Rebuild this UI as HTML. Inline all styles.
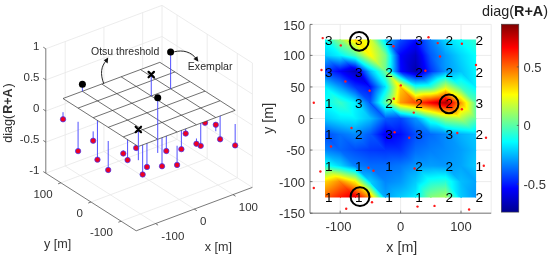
<!DOCTYPE html>
<html><head><meta charset="utf-8"><title>figure</title><style>html,body{margin:0;padding:0;background:#fff}svg{display:block}</style></head><body>
<svg width="550" height="260" viewBox="0 0 550 260" font-family="Liberation Sans, Arial, sans-serif">
<style>
text{font-family:"Liberation Sans",Arial,Helvetica,sans-serif}
.g{stroke:#e7e7e7;stroke-width:0.8;fill:none}
.ax{stroke:#4d4d4d;stroke-width:0.75;fill:none}
.m{stroke:#333;stroke-width:0.7;fill:none}
.s{stroke:#4848ff;stroke-width:0.95;fill:none}
.r{fill:#ee0022;stroke:#3a3aff;stroke-width:0.7}
.k{fill:#000}
.x{stroke:#000;stroke-width:2.2;fill:none;stroke-linecap:round}
.t{fill:#333;font-size:11.5px}
.tl{fill:#333;font-size:12.6px}
.t2{fill:#333;font-size:13px}
.n{fill:#000;font-size:13.6px}
.d{fill:#ff1a1a}
.c{fill:none;stroke:#000;stroke-width:2}
</style>
<rect width="550" height="260" fill="#fff"/>
<line x1="65.18" y1="165.97" x2="65.18" y2="41.57" class="g"/>
<line x1="65.18" y1="165.97" x2="155.56" y2="223.57" class="g"/>
<line x1="103.91" y1="151.5" x2="103.91" y2="27.1" class="g"/>
<line x1="103.91" y1="151.5" x2="194.29" y2="209.1" class="g"/>
<line x1="142.63" y1="137.03" x2="142.63" y2="12.63" class="g"/>
<line x1="142.63" y1="137.03" x2="233.02" y2="194.63" class="g"/>
<line x1="237.32" y1="177.8" x2="237.32" y2="53.39" class="g"/>
<line x1="121.13" y1="221.2" x2="237.32" y2="177.8" class="g"/>
<line x1="207.19" y1="158.59" x2="207.19" y2="34.19" class="g"/>
<line x1="91" y1="202" x2="207.19" y2="158.59" class="g"/>
<line x1="177.06" y1="139.39" x2="177.06" y2="14.99" class="g"/>
<line x1="60.87" y1="182.81" x2="177.06" y2="139.39" class="g"/>
<line x1="45.81" y1="142.11" x2="162" y2="98.69" class="g"/>
<line x1="162" y1="98.69" x2="252.39" y2="156.29" class="g"/>
<line x1="45.81" y1="111.01" x2="162" y2="67.59" class="g"/>
<line x1="162" y1="67.59" x2="252.39" y2="125.19" class="g"/>
<line x1="45.81" y1="79.91" x2="162" y2="36.49" class="g"/>
<line x1="162" y1="36.49" x2="252.39" y2="94.09" class="g"/>
<line x1="45.81" y1="48.81" x2="162" y2="5.39" class="g"/>
<line x1="162" y1="5.39" x2="252.39" y2="62.99" class="g"/>
<line x1="162" y1="129.8" x2="162" y2="5.39" class="g"/>
<line x1="252.39" y1="187.39" x2="252.39" y2="62.99" class="g"/>
<line x1="45.81" y1="173.21" x2="162" y2="129.8" class="g"/>
<line x1="162" y1="129.8" x2="252.39" y2="187.39" class="g"/>
<line x1="45.81" y1="173.21" x2="45.81" y2="48.81" class="ax"/>
<line x1="45.81" y1="173.21" x2="136.2" y2="230.81" class="ax"/>
<line x1="136.2" y1="230.81" x2="252.39" y2="187.39" class="ax"/>
<line x1="45.81" y1="48.81" x2="43.28" y2="47.19" class="ax"/>
<text x="39.5" y="49.71" text-anchor="end" class="t">1</text>
<line x1="45.81" y1="79.91" x2="43.28" y2="78.29" class="ax"/>
<text x="39.5" y="80.8" text-anchor="end" class="t">0.5</text>
<line x1="45.81" y1="111.01" x2="43.28" y2="109.39" class="ax"/>
<text x="39.5" y="111.91" text-anchor="end" class="t">0</text>
<line x1="45.81" y1="142.11" x2="43.28" y2="140.49" class="ax"/>
<text x="39.5" y="143.01" text-anchor="end" class="t">-0.5</text>
<line x1="45.81" y1="173.21" x2="43.28" y2="171.59" class="ax"/>
<text x="39.5" y="174.11" text-anchor="end" class="t">-1</text>
<line x1="60.87" y1="182.81" x2="58.06" y2="183.85" class="ax"/>
<text x="52.67" y="197.5" text-anchor="end" class="t">100</text>
<line x1="91" y1="202" x2="88.19" y2="203.05" class="ax"/>
<text x="82.8" y="216.7" text-anchor="end" class="t">0</text>
<line x1="121.13" y1="221.2" x2="118.32" y2="222.25" class="ax"/>
<text x="112.93" y="235.9" text-anchor="end" class="t">-100</text>
<line x1="155.56" y1="223.57" x2="158.09" y2="225.18" class="ax"/>
<text x="161.37" y="239.67" class="t">-100</text>
<line x1="194.29" y1="209.1" x2="196.82" y2="210.71" class="ax"/>
<text x="200.09" y="225.2" class="t">0</text>
<line x1="233.02" y1="194.63" x2="235.55" y2="196.24" class="ax"/>
<text x="238.82" y="210.73" class="t">100</text>
<text x="57.6" y="248" text-anchor="middle" class="tl">y [m]</text>
<text x="218.4" y="251.4" text-anchor="middle" class="tl">x [m]</text>
<text transform="translate(12.3,113) rotate(-90)" text-anchor="middle" class="tl">diag(<tspan font-weight="bold" dx="0.9">R+A</tspan><tspan dx="0.9">)</tspan></text>
<line x1="136.19" y1="100.08" x2="136.19" y2="147.98" class="s"/>
<circle cx="136.19" cy="147.98" r="2.7" class="r"/>
<line x1="205.04" y1="104.81" x2="205.04" y2="122.73" class="s"/>
<circle cx="205.04" cy="122.73" r="2.7" class="r"/>
<line x1="185.68" y1="112.05" x2="185.68" y2="133.57" class="s"/>
<circle cx="185.68" cy="133.57" r="2.7" class="r"/>
<line x1="220.11" y1="114.41" x2="220.11" y2="139.29" class="s"/>
<circle cx="220.11" cy="139.29" r="2.7" class="r"/>
<line x1="97.45" y1="114.55" x2="97.45" y2="159.65" class="s"/>
<circle cx="97.45" cy="159.65" r="2.7" class="r"/>
<line x1="166.31" y1="119.28" x2="166.31" y2="151" class="s"/>
<circle cx="166.31" cy="151" r="2.7" class="r"/>
<line x1="200.74" y1="121.65" x2="200.74" y2="145.84" class="s"/>
<circle cx="200.74" cy="145.84" r="2.7" class="r"/>
<line x1="146.95" y1="126.52" x2="146.95" y2="166.95" class="s"/>
<circle cx="146.95" cy="166.95" r="2.7" class="r"/>
<line x1="181.38" y1="128.88" x2="181.38" y2="149.16" class="s"/>
<circle cx="181.38" cy="149.16" r="2.7" class="r"/>
<line x1="127.58" y1="133.75" x2="127.58" y2="160.06" class="s"/>
<circle cx="127.58" cy="160.06" r="2.7" class="r"/>
<line x1="162.01" y1="136.12" x2="162.01" y2="166.22" class="s"/>
<circle cx="162.01" cy="166.22" r="2.7" class="r"/>
<line x1="142.65" y1="143.35" x2="142.65" y2="174.45" class="s"/>
<circle cx="142.65" cy="174.45" r="2.7" class="r"/>
<polygon points="63.02,98.5 159.85,62.33 235.17,110.33 138.35,146.5" fill="#fff" stroke="none"/>
<line x1="138.35" y1="146.5" x2="63.02" y2="98.5" class="m"/>
<line x1="138.35" y1="146.5" x2="235.17" y2="110.33" class="m"/>
<line x1="157.72" y1="139.27" x2="82.39" y2="91.27" class="m"/>
<line x1="123.28" y1="136.9" x2="220.11" y2="100.73" class="m"/>
<line x1="177.08" y1="132.03" x2="101.75" y2="84.03" class="m"/>
<line x1="108.22" y1="127.3" x2="205.04" y2="91.13" class="m"/>
<line x1="196.44" y1="124.8" x2="121.12" y2="76.8" class="m"/>
<line x1="93.16" y1="117.7" x2="189.98" y2="81.53" class="m"/>
<line x1="215.81" y1="117.56" x2="140.48" y2="69.56" class="m"/>
<line x1="78.09" y1="108.1" x2="174.91" y2="71.93" class="m"/>
<line x1="235.17" y1="110.33" x2="159.85" y2="62.33" class="m"/>
<line x1="63.02" y1="98.5" x2="159.85" y2="62.33" class="m"/>
<line x1="63.02" y1="112.19" x2="63.02" y2="119.28" class="s"/>
<circle cx="63.02" cy="119.28" r="2.7" class="r"/>
<line x1="78.09" y1="121.79" x2="78.09" y2="151.08" class="s"/>
<circle cx="78.09" cy="151.08" r="2.7" class="r"/>
<line x1="235.17" y1="124.01" x2="235.17" y2="145.41" class="s"/>
<circle cx="235.17" cy="145.41" r="2.7" class="r"/>
<line x1="215.81" y1="131.25" x2="215.81" y2="124.78" class="s"/>
<circle cx="215.81" cy="124.78" r="2.7" class="r"/>
<line x1="93.16" y1="131.39" x2="93.16" y2="140.72" class="s"/>
<circle cx="93.16" cy="140.72" r="2.7" class="r"/>
<line x1="196.44" y1="138.48" x2="196.44" y2="143.77" class="s"/>
<circle cx="196.44" cy="143.77" r="2.7" class="r"/>
<line x1="108.22" y1="140.99" x2="108.22" y2="169.97" class="s"/>
<circle cx="108.22" cy="169.97" r="2.7" class="r"/>
<line x1="177.08" y1="145.72" x2="177.08" y2="164.94" class="s"/>
<circle cx="177.08" cy="164.94" r="2.7" class="r"/>
<line x1="123.28" y1="150.59" x2="123.28" y2="153.51" class="s"/>
<circle cx="123.28" cy="153.51" r="2.7" class="r"/>
<line x1="170.61" y1="88.76" x2="170.61" y2="52.07" class="s"/>
<circle cx="170.61" cy="52.07" r="3.5" class="k"/>
<line x1="82.39" y1="91.27" x2="82.39" y2="84.18" class="s"/>
<circle cx="82.39" cy="84.18" r="3.5" class="k"/>
<line x1="151.25" y1="96" x2="151.25" y2="74.6" class="s"/>
<path d="M148.55 71.9l5.4 5.4m0 -5.4l-5.4 5.4" class="x"/>
<line x1="157.72" y1="152.95" x2="157.72" y2="97.78" class="s"/>
<circle cx="157.72" cy="97.78" r="3.5" class="k"/>
<line x1="138.35" y1="160.19" x2="138.35" y2="129.46" class="s"/>
<path d="M135.65 126.76l5.4 5.4m0 -5.4l-5.4 5.4" class="x"/>
<text x="91" y="54.9" font-size="10.5" fill="#2a2a2a">Otsu threshold</text>
<text x="187.8" y="69.5" font-size="10.6" fill="#2a2a2a">Exemplar</text>
<path d="M103.8 83.8C100 74 101 66 106.5 60.5" fill="none" stroke="#111" stroke-width="0.9"/>
<path d="M108.2 57.6L107.6 63.4L103.8 60.2Z" fill="#111"/>
<path d="M174.2 51.8C183 49.6 191.5 52 196.3 58.8" fill="none" stroke="#111" stroke-width="0.9"/>
<path d="M198.4 61.8L193.4 58.9L197.4 56.2Z" fill="#111"/>
<line x1="310" y1="213.18" x2="491.2" y2="213.18" class="g"/>
<line x1="310" y1="181.62" x2="491.2" y2="181.62" class="g"/>
<line x1="310" y1="150.06" x2="491.2" y2="150.06" class="g"/>
<line x1="310" y1="118.5" x2="491.2" y2="118.5" class="g"/>
<line x1="310" y1="86.94" x2="491.2" y2="86.94" class="g"/>
<line x1="310" y1="55.38" x2="491.2" y2="55.38" class="g"/>
<line x1="310" y1="24.4" x2="491.2" y2="24.4" class="g"/>
<line x1="340.2" y1="213.18" x2="340.2" y2="24.4" class="g"/>
<line x1="400.6" y1="213.18" x2="400.6" y2="24.4" class="g"/>
<line x1="461" y1="213.18" x2="461" y2="24.4" class="g"/>
<line x1="491.2" y1="213.18" x2="491.2" y2="24.4" class="g"/>
<defs><linearGradient id="j" gradientUnits="userSpaceOnUse"><stop offset="0" stop-color="#00008f"/><stop offset="0.125" stop-color="#0000ff"/><stop offset="0.375" stop-color="#00ffff"/><stop offset="0.625" stop-color="#ffff00"/><stop offset="0.875" stop-color="#ff0000"/><stop offset="1" stop-color="#800000"/></linearGradient>
<linearGradient id="g0" href="#j" x1="285.74" y1="116.57" x2="344.78" y2="214.15"/>
<linearGradient id="g1" href="#j" x1="281.1" y1="118.47" x2="347.1" y2="213.2"/>
<linearGradient id="g2" href="#j" x1="318.79" y1="144.19" x2="334.62" y2="198.48"/>
<linearGradient id="g3" href="#j" x1="327.54" y1="150.69" x2="321.43" y2="188.68"/>
<linearGradient id="g4" href="#j" x1="335.69" y1="126.74" x2="294.22" y2="218.02"/>
<linearGradient id="g5" href="#j" x1="334.72" y1="116.91" x2="297.05" y2="246.68"/>
<linearGradient id="g6" href="#j" x1="349.46" y1="92.32" x2="227.27" y2="302.79"/>
<linearGradient id="g7" href="#j" x1="252" y1="157.6" x2="618.63" y2="40.65"/>
<linearGradient id="g8" href="#j" x1="313.39" y1="155.86" x2="349.54" y2="40.55"/>
<linearGradient id="g9" href="#j" x1="314.06" y1="158.65" x2="348.14" y2="34.72"/>
<linearGradient id="g10" href="#j" x1="278.66" y1="182.71" x2="400.85" y2="-27.76"/>
<linearGradient id="g11" href="#j" x1="287.48" y1="156.72" x2="386.47" y2="14.63"/>
<linearGradient id="g12" href="#j" x1="237.55" y1="45.05" x2="484.07" y2="163"/>
<linearGradient id="g13" href="#j" x1="340.19" y1="59.16" x2="297.69" y2="137.38"/>
<linearGradient id="g14" href="#j" x1="332.14" y1="57.17" x2="294.48" y2="132.02"/>
<linearGradient id="g15" href="#j" x1="332.32" y1="54.58" x2="293.69" y2="143.29"/>
<linearGradient id="g16" href="#j" x1="339.56" y1="85.81" x2="294.94" y2="-8.12"/>
<linearGradient id="g17" href="#j" x1="321.29" y1="75.7" x2="333.05" y2="12.97"/>
<linearGradient id="g18" href="#j" x1="278.48" y1="103.33" x2="399.17" y2="-61.65"/>
<linearGradient id="g19" href="#j" x1="305.6" y1="60.8" x2="356.08" y2="5.91"/>
<linearGradient id="g20" href="#j" x1="297.38" y1="99.67" x2="355.13" y2="210.2"/>
<linearGradient id="g21" href="#j" x1="355.02" y1="144.92" x2="335.03" y2="194.42"/>
<linearGradient id="g22" href="#j" x1="343.53" y1="153.64" x2="333.62" y2="189.9"/>
<linearGradient id="g23" href="#j" x1="343.27" y1="152.82" x2="334.14" y2="191.52"/>
<linearGradient id="g24" href="#j" x1="355.65" y1="131.06" x2="286.78" y2="215.78"/>
<linearGradient id="g25" href="#j" x1="369.35" y1="94.28" x2="239.4" y2="342.97"/>
<linearGradient id="g26" href="#j" x1="456.93" y1="190.13" x2="-36.1" y2="-45.76"/>
<linearGradient id="g27" href="#j" x1="318.86" y1="185.32" x2="408.98" y2="-30.27"/>
<linearGradient id="g28" href="#j" x1="330.27" y1="163.65" x2="358.24" y2="36.51"/>
<linearGradient id="g29" href="#j" x1="336.54" y1="174.48" x2="346.84" y2="16.86"/>
<linearGradient id="g30" href="#j" x1="332.36" y1="192.77" x2="350.6" y2="-16.7"/>
<linearGradient id="g31" href="#j" x1="434.92" y1="102.72" x2="214.6" y2="102.72"/>
<linearGradient id="g32" href="#j" x1="350.74" y1="64.01" x2="312.29" y2="147.64"/>
<linearGradient id="g33" href="#j" x1="350.04" y1="69.28" x2="314.14" y2="133.7"/>
<linearGradient id="g34" href="#j" x1="346.37" y1="62.31" x2="296.87" y2="133.35"/>
<linearGradient id="g35" href="#j" x1="347.3" y1="59.83" x2="290.31" y2="150.73"/>
<linearGradient id="g36" href="#j" x1="347.16" y1="77.02" x2="328.23" y2="18.16"/>
<linearGradient id="g37" href="#j" x1="337.25" y1="69.3" x2="345.28" y2="31.43"/>
<linearGradient id="g38" href="#j" x1="317.96" y1="80.53" x2="360.46" y2="2.32"/>
<linearGradient id="g39" href="#j" x1="322.53" y1="65.34" x2="356.3" y2="16.16"/>
<linearGradient id="g40" href="#j" x1="372.59" y1="157.36" x2="345.38" y2="195.54"/>
<linearGradient id="g41" href="#j" x1="367.62" y1="166.53" x2="348.23" y2="190.27"/>
<linearGradient id="g42" href="#j" x1="360.32" y1="159.89" x2="340.19" y2="183.77"/>
<linearGradient id="g43" href="#j" x1="363.73" y1="125.52" x2="329.91" y2="287.3"/>
<linearGradient id="g44" href="#j" x1="376.74" y1="95.34" x2="269.19" y2="369.78"/>
<linearGradient id="g45" href="#j" x1="376.74" y1="95.34" x2="269.19" y2="369.78"/>
<linearGradient id="g46" href="#j" x1="374.22" y1="194.62" x2="301.92" y2="-35.98"/>
<linearGradient id="g47" href="#j" x1="413.69" y1="169.2" x2="190.56" y2="35.75"/>
<linearGradient id="g48" href="#j" x1="378.78" y1="163.43" x2="313.81" y2="39.09"/>
<linearGradient id="g49" href="#j" x1="378.78" y1="163.43" x2="313.81" y2="39.09"/>
<linearGradient id="g50" href="#j" x1="464.78" y1="102.72" x2="161.83" y2="102.72"/>
<linearGradient id="g51" href="#j" x1="381.24" y1="86.17" x2="309.46" y2="131.96"/>
<linearGradient id="g52" href="#j" x1="362.55" y1="78.27" x2="321" y2="127.96"/>
<linearGradient id="g53" href="#j" x1="370.41" y1="58.02" x2="283.78" y2="223.81"/>
<linearGradient id="g54" href="#j" x1="357.1" y1="65.41" x2="320.95" y2="180.71"/>
<linearGradient id="g55" href="#j" x1="353.26" y1="72.46" x2="394.27" y2="46.3"/>
<linearGradient id="g56" href="#j" x1="347.02" y1="67.45" x2="365.48" y2="40.54"/>
<linearGradient id="g57" href="#j" x1="345.52" y1="71.84" x2="367.33" y2="35.14"/>
<linearGradient id="g58" href="#j" x1="331.43" y1="67.17" x2="367.24" y2="25.81"/>
<linearGradient id="g59" href="#j" x1="453.51" y1="-11" x2="306.19" y2="64.9"/>
<linearGradient id="g60" href="#j" x1="376.75" y1="176.06" x2="357.14" y2="193.22"/>
<linearGradient id="g61" href="#j" x1="430.43" y1="155.51" x2="245.15" y2="236.1"/>
<linearGradient id="g62" href="#j" x1="389.19" y1="141.32" x2="307.67" y2="247.69"/>
<linearGradient id="g63" href="#j" x1="370.4" y1="19.87" x2="370.4" y2="653.05"/>
<linearGradient id="g64" href="#j" x1="370.4" y1="92.86" x2="370.4" y2="409.44"/>
<linearGradient id="g65" href="#j" x1="376.23" y1="99.89" x2="343.98" y2="377.56"/>
<linearGradient id="g66" href="#j" x1="391.89" y1="237.09" x2="290.45" y2="-248.24"/>
<linearGradient id="g67" href="#j" x1="394.03" y1="120.15" x2="282.47" y2="186.87"/>
<linearGradient id="g68" href="#j" x1="395.03" y1="142.07" x2="315.96" y2="66.41"/>
<linearGradient id="g69" href="#j" x1="395.03" y1="142.07" x2="315.96" y2="66.41"/>
<linearGradient id="g70" href="#j" x1="387.15" y1="86.69" x2="308.08" y2="162.35"/>
<linearGradient id="g71" href="#j" x1="363.7" y1="109.13" x2="395.33" y2="78.87"/>
<linearGradient id="g72" href="#j" x1="362.73" y1="84.74" x2="418.7" y2="100.81"/>
<linearGradient id="g73" href="#j" x1="362.62" y1="83" x2="419.35" y2="111.74"/>
<linearGradient id="g74" href="#j" x1="356.7" y1="81.96" x2="400.67" y2="47.3"/>
<linearGradient id="g75" href="#j" x1="352.4" y1="84.55" x2="410.17" y2="41.56"/>
<linearGradient id="g76" href="#j" x1="357.16" y1="79.31" x2="378.2" y2="41.28"/>
<linearGradient id="g77" href="#j" x1="439.2" y1="61.37" x2="329.87" y2="51.85"/>
<linearGradient id="g78" href="#j" x1="429.44" y1="21.62" x2="328.63" y2="52.32"/>
<linearGradient id="g79" href="#j" x1="396.54" y1="23.97" x2="351.91" y2="50.66"/>
<linearGradient id="g80" href="#j" x1="322.43" y1="131.32" x2="569.34" y2="328.22"/>
<linearGradient id="g81" href="#j" x1="358.03" y1="111.51" x2="465.58" y2="385.95"/>
<linearGradient id="g82" href="#j" x1="314.63" y1="75.42" x2="622.05" y2="467.65"/>
<linearGradient id="g83" href="#j" x1="343.95" y1="66.44" x2="524.19" y2="497.63"/>
<linearGradient id="g84" href="#j" x1="374.68" y1="103.48" x2="436.69" y2="370.49"/>
<linearGradient id="g85" href="#j" x1="385.5" y1="109.89" x2="385.5" y2="340.14"/>
<linearGradient id="g86" href="#j" x1="385.5" y1="105.88" x2="385.5" y2="359.14"/>
<linearGradient id="g87" href="#j" x1="363.3" y1="102.41" x2="561.28" y2="386.59"/>
<linearGradient id="g88" href="#j" x1="377.3" y1="149.89" x2="416.01" y2="1.71"/>
<linearGradient id="g89" href="#j" x1="404.02" y1="171.66" x2="316.6" y2="-79.3"/>
<linearGradient id="g90" href="#j" x1="387.77" y1="131.73" x2="382.84" y2="68.8"/>
<linearGradient id="g91" href="#j" x1="379.9" y1="113.57" x2="392.05" y2="90.04"/>
<linearGradient id="g92" href="#j" x1="368.27" y1="79.87" x2="417.66" y2="100.13"/>
<linearGradient id="g93" href="#j" x1="369.58" y1="84.6" x2="415.2" y2="91.31"/>
<linearGradient id="g94" href="#j" x1="366.05" y1="78.68" x2="406.6" y2="63.01"/>
<linearGradient id="g95" href="#j" x1="392.03" y1="61.39" x2="378.42" y2="81.75"/>
<linearGradient id="g96" href="#j" x1="407.16" y1="56.13" x2="363.15" y2="54.6"/>
<linearGradient id="g97" href="#j" x1="405.7" y1="54.72" x2="364.66" y2="56.06"/>
<linearGradient id="g98" href="#j" x1="397.37" y1="34.79" x2="362.09" y2="49.09"/>
<linearGradient id="g99" href="#j" x1="414.63" y1="54.8" x2="328.05" y2="9.62"/>
<linearGradient id="g100" href="#j" x1="358.46" y1="127.86" x2="512.17" y2="323.97"/>
<linearGradient id="g101" href="#j" x1="345.78" y1="142.28" x2="545.74" y2="285.78"/>
<linearGradient id="g102" href="#j" x1="346.38" y1="133.41" x2="569.51" y2="266.86"/>
<linearGradient id="g103" href="#j" x1="365.38" y1="111.92" x2="510.32" y2="333.83"/>
<linearGradient id="g104" href="#j" x1="385.03" y1="117.29" x2="474.27" y2="305.14"/>
<linearGradient id="g105" href="#j" x1="370.37" y1="127.56" x2="543.66" y2="256.53"/>
<linearGradient id="g106" href="#j" x1="374.37" y1="117.54" x2="565.76" y2="239.64"/>
<linearGradient id="g107" href="#j" x1="373.57" y1="121.35" x2="570.78" y2="215.7"/>
<linearGradient id="g108" href="#j" x1="373.72" y1="141.65" x2="512.87" y2="21.81"/>
<linearGradient id="g109" href="#j" x1="380.37" y1="136.37" x2="485.09" y2="43.87"/>
<linearGradient id="g110" href="#j" x1="397.24" y1="123.72" x2="401.89" y2="94.66"/>
<linearGradient id="g111" href="#j" x1="397.24" y1="123.72" x2="401.89" y2="94.66"/>
<linearGradient id="g112" href="#j" x1="307.45" y1="32.09" x2="445.88" y2="113.6"/>
<linearGradient id="g113" href="#j" x1="413.12" y1="69.1" x2="394.51" y2="95.61"/>
<linearGradient id="g114" href="#j" x1="402.26" y1="67.99" x2="390.17" y2="91.12"/>
<linearGradient id="g115" href="#j" x1="402.14" y1="65.71" x2="390.88" y2="105.45"/>
<linearGradient id="g116" href="#j" x1="419.21" y1="53.15" x2="269.87" y2="71.02"/>
<linearGradient id="g117" href="#j" x1="426.94" y1="65.46" x2="215.56" y2="-15.45"/>
<linearGradient id="g118" href="#j" x1="421.44" y1="63.53" x2="316.91" y2="-56.5"/>
<linearGradient id="g119" href="#j" x1="421.44" y1="63.53" x2="316.91" y2="-56.5"/>
<linearGradient id="g120" href="#j" x1="383.56" y1="173.6" x2="482.75" y2="198.36"/>
<linearGradient id="g121" href="#j" x1="392.64" y1="150.36" x2="463.81" y2="246.84"/>
<linearGradient id="g122" href="#j" x1="376.35" y1="140.74" x2="519.89" y2="232.31"/>
<linearGradient id="g123" href="#j" x1="413.7" y1="129.41" x2="421.01" y2="262.3"/>
<linearGradient id="g124" href="#j" x1="403.52" y1="68.47" x2="456.36" y2="422.39"/>
<linearGradient id="g125" href="#j" x1="363.14" y1="66.24" x2="591.12" y2="429.83"/>
<linearGradient id="g126" href="#j" x1="370.25" y1="61.79" x2="598.22" y2="425.38"/>
<linearGradient id="g127" href="#j" x1="343.02" y1="92.55" x2="707.56" y2="301.85"/>
<linearGradient id="g128" href="#j" x1="394.52" y1="167.14" x2="471.78" y2="-10.28"/>
<linearGradient id="g129" href="#j" x1="404.75" y1="132.04" x2="444.7" y2="82.66"/>
<linearGradient id="g130" href="#j" x1="409.2" y1="124.75" x2="417.29" y2="97.34"/>
<linearGradient id="g131" href="#j" x1="410.81" y1="129.33" x2="416.89" y2="96.22"/>
<linearGradient id="g132" href="#j" x1="412.44" y1="71.6" x2="420.48" y2="109.47"/>
<linearGradient id="g133" href="#j" x1="415.11" y1="73.1" x2="416.56" y2="107.27"/>
<linearGradient id="g134" href="#j" x1="415.61" y1="69.56" x2="417.89" y2="112.37"/>
<linearGradient id="g135" href="#j" x1="414.68" y1="69.38" x2="442.03" y2="116.97"/>
<linearGradient id="g136" href="#j" x1="409.04" y1="56.54" x2="515.96" y2="37.94"/>
<linearGradient id="g137" href="#j" x1="409.75" y1="56.8" x2="505.26" y2="33.95"/>
<linearGradient id="g138" href="#j" x1="404.44" y1="44.99" x2="486.61" y2="5.67"/>
<linearGradient id="g139" href="#j" x1="398.95" y1="44.94" x2="521.16" y2="5.96"/>
<linearGradient id="g140" href="#j" x1="414.12" y1="127.34" x2="455.96" y2="263.46"/>
<linearGradient id="g141" href="#j" x1="425.58" y1="131.67" x2="438.67" y2="256.94"/>
<linearGradient id="g142" href="#j" x1="426.74" y1="128.91" x2="441.23" y2="260.62"/>
<linearGradient id="g143" href="#j" x1="432.33" y1="133.64" x2="426.87" y2="248.5"/>
<linearGradient id="g144" href="#j" x1="456.08" y1="29.1" x2="354.64" y2="514.44"/>
<linearGradient id="g145" href="#j" x1="273.15" y1="-0.79" x2="905.71" y2="604.51"/>
<linearGradient id="g146" href="#j" x1="339.52" y1="3.26" x2="735.49" y2="571.62"/>
<linearGradient id="g147" href="#j" x1="319.06" y1="134.28" x2="803.77" y2="134.28"/>
<linearGradient id="g148" href="#j" x1="425.13" y1="152.16" x2="438.52" y2="72.72"/>
<linearGradient id="g149" href="#j" x1="422.02" y1="140.55" x2="442.74" y2="88.5"/>
<linearGradient id="g150" href="#j" x1="424.29" y1="131.53" x2="431.65" y2="98.97"/>
<linearGradient id="g151" href="#j" x1="425.24" y1="133.74" x2="431.52" y2="98.68"/>
<linearGradient id="g152" href="#j" x1="428.41" y1="72.84" x2="434.05" y2="106.11"/>
<linearGradient id="g153" href="#j" x1="424.78" y1="72.07" x2="438.98" y2="107.17"/>
<linearGradient id="g154" href="#j" x1="425.83" y1="63.23" x2="454.33" y2="108.68"/>
<linearGradient id="g155" href="#j" x1="427.94" y1="62.95" x2="444.33" y2="110.01"/>
<linearGradient id="g156" href="#j" x1="402.37" y1="65.58" x2="536.57" y2="17.43"/>
<linearGradient id="g157" href="#j" x1="384.48" y1="59.41" x2="603.15" y2="40.39"/>
<linearGradient id="g158" href="#j" x1="387.65" y1="62.12" x2="560.8" y2="-28.25"/>
<linearGradient id="g159" href="#j" x1="399.5" y1="58.85" x2="525.09" y2="-18.4"/>
<linearGradient id="g160" href="#j" x1="468.16" y1="169.09" x2="414.03" y2="199.56"/>
<linearGradient id="g161" href="#j" x1="507.31" y1="174.27" x2="357.97" y2="192.14"/>
<linearGradient id="g162" href="#j" x1="461.1" y1="145.84" x2="405.64" y2="218.81"/>
<linearGradient id="g163" href="#j" x1="374.65" y1="29.49" x2="634.54" y2="526.86"/>
<linearGradient id="g164" href="#j" x1="280.37" y1="-8.34" x2="912.93" y2="596.96"/>
<linearGradient id="g165" href="#j" x1="254.02" y1="88.86" x2="987.27" y2="322.74"/>
<linearGradient id="g166" href="#j" x1="234.5" y1="134.28" x2="1042.35" y2="134.28"/>
<linearGradient id="g167" href="#j" x1="359.89" y1="175.43" x2="688.57" y2="18.17"/>
<linearGradient id="g168" href="#j" x1="441.29" y1="149.37" x2="450.1" y2="90.38"/>
<linearGradient id="g169" href="#j" x1="442.47" y1="151.28" x2="449.02" y2="88.65"/>
<linearGradient id="g170" href="#j" x1="443.83" y1="137.31" x2="445.99" y2="101.26"/>
<linearGradient id="g171" href="#j" x1="486.77" y1="131.54" x2="444.17" y2="101.5"/>
<linearGradient id="g172" href="#j" x1="456.53" y1="70.34" x2="437.98" y2="99.3"/>
<linearGradient id="g173" href="#j" x1="458.42" y1="62.46" x2="436.58" y2="105.17"/>
<linearGradient id="g174" href="#j" x1="451.69" y1="59.59" x2="430.57" y2="101.78"/>
<linearGradient id="g175" href="#j" x1="432.45" y1="38.05" x2="481.52" y2="158.81"/>
<linearGradient id="g176" href="#j" x1="350.61" y1="68.41" x2="690.48" y2="21.95"/>
<linearGradient id="g177" href="#j" x1="377.37" y1="77.24" x2="621.79" y2="-0.72"/>
<linearGradient id="g178" href="#j" x1="398.61" y1="84.86" x2="539.17" y2="-49.66"/>
<linearGradient id="g179" href="#j" x1="385.09" y1="97.79" x2="565.82" y2="-75.16"/>
<linearGradient id="g180" href="#j" x1="550.27" y1="160.27" x2="263.72" y2="228.81"/>
<linearGradient id="g181" href="#j" x1="614.59" y1="255.11" x2="121.57" y2="19.22"/>
<linearGradient id="g182" href="#j" x1="551.65" y1="79.1" x2="235.37" y2="381.75"/>
<linearGradient id="g183" href="#j" x1="400.57" y1="223.67" x2="611.42" y2="21.9"/>
<linearGradient id="g184" href="#j" x1="350.56" y1="132.45" x2="744.46" y2="195.27"/>
<linearGradient id="g185" href="#j" x1="342.47" y1="104.69" x2="765.24" y2="266.51"/>
<linearGradient id="g186" href="#j" x1="351.98" y1="196.87" x2="716.52" y2="-12.43"/>
<linearGradient id="g187" href="#j" x1="313.55" y1="204.83" x2="806.58" y2="-31.06"/>
<linearGradient id="g188" href="#j" x1="457.41" y1="152.84" x2="463.96" y2="90.21"/>
<linearGradient id="g189" href="#j" x1="490.1" y1="162.26" x2="437.02" y2="82.44"/>
<linearGradient id="g190" href="#j" x1="487.83" y1="154.07" x2="450.71" y2="83.02"/>
<linearGradient id="g191" href="#j" x1="502.7" y1="102.72" x2="445" y2="102.72"/>
<linearGradient id="g192" href="#j" x1="472.56" y1="74.57" x2="445.68" y2="103.35"/>
<linearGradient id="g193" href="#j" x1="493.25" y1="42.06" x2="418.24" y2="146.46"/>
<linearGradient id="g194" href="#j" x1="481.28" y1="39.4" x2="417.45" y2="139.35"/>
<linearGradient id="g195" href="#j" x1="366.1" y1="82.51" x2="664.77" y2="46.79"/>
<linearGradient id="g196" href="#j" x1="370.7" y1="87.78" x2="639.09" y2="-8.52"/>
<linearGradient id="g197" href="#j" x1="352.62" y1="85.01" x2="674.76" y2="-3.06"/>
<linearGradient id="g198" href="#j" x1="392.31" y1="105.33" x2="573.04" y2="-67.61"/>
<linearGradient id="g199" href="#j" x1="392.31" y1="105.33" x2="573.04" y2="-67.61"/>
</defs>
<clipPath id="hc"><rect x="325.1" y="39.6" width="151" height="157.8"/></clipPath><g clip-path="url(#hc)">
<polygon points="325.1,181.62 325.1,197.4 340.2,197.4" fill="url(#g0)" stroke="url(#g0)" stroke-width="1" shape-rendering="crispEdges"/>
<polygon points="325.1,181.62 340.2,181.62 340.2,197.4" fill="url(#g1)" stroke="url(#g1)" stroke-width="1" shape-rendering="crispEdges"/>
<polygon points="325.1,165.84 325.1,181.62 340.2,181.62" fill="url(#g2)" stroke="url(#g2)" stroke-width="1" shape-rendering="crispEdges"/>
<polygon points="325.1,165.84 340.2,165.84 340.2,181.62" fill="url(#g3)" stroke="url(#g3)" stroke-width="1" shape-rendering="crispEdges"/>
<polygon points="325.1,150.06 325.1,165.84 340.2,165.84" fill="url(#g4)" stroke="url(#g4)" stroke-width="1" shape-rendering="crispEdges"/>
<polygon points="325.1,150.06 340.2,150.06 340.2,165.84" fill="url(#g5)" stroke="url(#g5)" stroke-width="1" shape-rendering="crispEdges"/>
<polygon points="325.1,134.28 325.1,150.06 340.2,150.06" fill="url(#g6)" stroke="url(#g6)" stroke-width="1" shape-rendering="crispEdges"/>
<polygon points="325.1,134.28 340.2,134.28 340.2,150.06" fill="url(#g7)" stroke="url(#g7)" stroke-width="1" shape-rendering="crispEdges"/>
<polygon points="325.1,118.5 325.1,134.28 340.2,134.28" fill="url(#g8)" stroke="url(#g8)" stroke-width="1" shape-rendering="crispEdges"/>
<polygon points="325.1,118.5 340.2,118.5 340.2,134.28" fill="url(#g9)" stroke="url(#g9)" stroke-width="1" shape-rendering="crispEdges"/>
<polygon points="325.1,102.72 325.1,118.5 340.2,118.5" fill="url(#g10)" stroke="url(#g10)" stroke-width="1" shape-rendering="crispEdges"/>
<polygon points="325.1,102.72 340.2,102.72 340.2,118.5" fill="url(#g11)" stroke="url(#g11)" stroke-width="1" shape-rendering="crispEdges"/>
<polygon points="325.1,86.94 325.1,102.72 340.2,102.72" fill="url(#g12)" stroke="url(#g12)" stroke-width="1" shape-rendering="crispEdges"/>
<polygon points="325.1,86.94 340.2,86.94 340.2,102.72" fill="url(#g13)" stroke="url(#g13)" stroke-width="1" shape-rendering="crispEdges"/>
<polygon points="325.1,71.16 325.1,86.94 340.2,86.94" fill="url(#g14)" stroke="url(#g14)" stroke-width="1" shape-rendering="crispEdges"/>
<polygon points="325.1,71.16 340.2,71.16 340.2,86.94" fill="url(#g15)" stroke="url(#g15)" stroke-width="1" shape-rendering="crispEdges"/>
<polygon points="325.1,55.38 325.1,71.16 340.2,71.16" fill="url(#g16)" stroke="url(#g16)" stroke-width="1" shape-rendering="crispEdges"/>
<polygon points="325.1,55.38 340.2,55.38 340.2,71.16" fill="url(#g17)" stroke="url(#g17)" stroke-width="1" shape-rendering="crispEdges"/>
<polygon points="325.1,39.6 325.1,55.38 340.2,55.38" fill="url(#g18)" stroke="url(#g18)" stroke-width="1" shape-rendering="crispEdges"/>
<polygon points="325.1,39.6 340.2,39.6 340.2,55.38" fill="url(#g19)" stroke="url(#g19)" stroke-width="1" shape-rendering="crispEdges"/>
<polygon points="340.2,181.62 340.2,197.4 355.3,197.4" fill="url(#g20)" stroke="url(#g20)" stroke-width="1" shape-rendering="crispEdges"/>
<polygon points="340.2,181.62 355.3,181.62 355.3,197.4" fill="url(#g21)" stroke="url(#g21)" stroke-width="1" shape-rendering="crispEdges"/>
<polygon points="340.2,165.84 340.2,181.62 355.3,181.62" fill="url(#g22)" stroke="url(#g22)" stroke-width="1" shape-rendering="crispEdges"/>
<polygon points="340.2,165.84 355.3,165.84 355.3,181.62" fill="url(#g23)" stroke="url(#g23)" stroke-width="1" shape-rendering="crispEdges"/>
<polygon points="340.2,150.06 340.2,165.84 355.3,165.84" fill="url(#g24)" stroke="url(#g24)" stroke-width="1" shape-rendering="crispEdges"/>
<polygon points="340.2,150.06 355.3,150.06 355.3,165.84" fill="url(#g25)" stroke="url(#g25)" stroke-width="1" shape-rendering="crispEdges"/>
<polygon points="340.2,134.28 340.2,150.06 355.3,150.06" fill="url(#g26)" stroke="url(#g26)" stroke-width="1" shape-rendering="crispEdges"/>
<polygon points="340.2,134.28 355.3,134.28 355.3,150.06" fill="url(#g27)" stroke="url(#g27)" stroke-width="1" shape-rendering="crispEdges"/>
<polygon points="340.2,118.5 340.2,134.28 355.3,134.28" fill="url(#g28)" stroke="url(#g28)" stroke-width="1" shape-rendering="crispEdges"/>
<polygon points="340.2,118.5 355.3,118.5 355.3,134.28" fill="url(#g29)" stroke="url(#g29)" stroke-width="1" shape-rendering="crispEdges"/>
<polygon points="340.2,102.72 340.2,118.5 355.3,118.5" fill="url(#g30)" stroke="url(#g30)" stroke-width="1" shape-rendering="crispEdges"/>
<polygon points="340.2,102.72 355.3,102.72 355.3,118.5" fill="url(#g31)" stroke="url(#g31)" stroke-width="1" shape-rendering="crispEdges"/>
<polygon points="340.2,86.94 340.2,102.72 355.3,102.72" fill="url(#g32)" stroke="url(#g32)" stroke-width="1" shape-rendering="crispEdges"/>
<polygon points="340.2,86.94 355.3,86.94 355.3,102.72" fill="url(#g33)" stroke="url(#g33)" stroke-width="1" shape-rendering="crispEdges"/>
<polygon points="340.2,71.16 340.2,86.94 355.3,86.94" fill="url(#g34)" stroke="url(#g34)" stroke-width="1" shape-rendering="crispEdges"/>
<polygon points="340.2,71.16 355.3,71.16 355.3,86.94" fill="url(#g35)" stroke="url(#g35)" stroke-width="1" shape-rendering="crispEdges"/>
<polygon points="340.2,55.38 340.2,71.16 355.3,71.16" fill="url(#g36)" stroke="url(#g36)" stroke-width="1" shape-rendering="crispEdges"/>
<polygon points="340.2,55.38 355.3,55.38 355.3,71.16" fill="url(#g37)" stroke="url(#g37)" stroke-width="1" shape-rendering="crispEdges"/>
<polygon points="340.2,39.6 340.2,55.38 355.3,55.38" fill="url(#g38)" stroke="url(#g38)" stroke-width="1" shape-rendering="crispEdges"/>
<polygon points="340.2,39.6 355.3,39.6 355.3,55.38" fill="url(#g39)" stroke="url(#g39)" stroke-width="1" shape-rendering="crispEdges"/>
<polygon points="355.3,181.62 355.3,197.4 370.4,197.4" fill="url(#g40)" stroke="url(#g40)" stroke-width="1" shape-rendering="crispEdges"/>
<polygon points="355.3,181.62 370.4,181.62 370.4,197.4" fill="url(#g41)" stroke="url(#g41)" stroke-width="1" shape-rendering="crispEdges"/>
<polygon points="355.3,165.84 355.3,181.62 370.4,181.62" fill="url(#g42)" stroke="url(#g42)" stroke-width="1" shape-rendering="crispEdges"/>
<polygon points="355.3,165.84 370.4,165.84 370.4,181.62" fill="url(#g43)" stroke="url(#g43)" stroke-width="1" shape-rendering="crispEdges"/>
<polygon points="355.3,150.06 355.3,165.84 370.4,165.84" fill="url(#g44)" stroke="url(#g44)" stroke-width="1" shape-rendering="crispEdges"/>
<polygon points="355.3,150.06 370.4,150.06 370.4,165.84" fill="url(#g45)" stroke="url(#g45)" stroke-width="1" shape-rendering="crispEdges"/>
<polygon points="355.3,134.28 355.3,150.06 370.4,150.06" fill="url(#g46)" stroke="url(#g46)" stroke-width="1" shape-rendering="crispEdges"/>
<polygon points="355.3,134.28 370.4,134.28 370.4,150.06" fill="url(#g47)" stroke="url(#g47)" stroke-width="1" shape-rendering="crispEdges"/>
<polygon points="355.3,118.5 355.3,134.28 370.4,134.28" fill="url(#g48)" stroke="url(#g48)" stroke-width="1" shape-rendering="crispEdges"/>
<polygon points="355.3,118.5 370.4,118.5 370.4,134.28" fill="url(#g49)" stroke="url(#g49)" stroke-width="1" shape-rendering="crispEdges"/>
<polygon points="355.3,102.72 355.3,118.5 370.4,118.5" fill="url(#g50)" stroke="url(#g50)" stroke-width="1" shape-rendering="crispEdges"/>
<polygon points="355.3,102.72 370.4,102.72 370.4,118.5" fill="url(#g51)" stroke="url(#g51)" stroke-width="1" shape-rendering="crispEdges"/>
<polygon points="355.3,86.94 355.3,102.72 370.4,102.72" fill="url(#g52)" stroke="url(#g52)" stroke-width="1" shape-rendering="crispEdges"/>
<polygon points="355.3,86.94 370.4,86.94 370.4,102.72" fill="url(#g53)" stroke="url(#g53)" stroke-width="1" shape-rendering="crispEdges"/>
<polygon points="355.3,71.16 355.3,86.94 370.4,86.94" fill="url(#g54)" stroke="url(#g54)" stroke-width="1" shape-rendering="crispEdges"/>
<polygon points="355.3,71.16 370.4,71.16 370.4,86.94" fill="url(#g55)" stroke="url(#g55)" stroke-width="1" shape-rendering="crispEdges"/>
<polygon points="355.3,55.38 355.3,71.16 370.4,71.16" fill="url(#g56)" stroke="url(#g56)" stroke-width="1" shape-rendering="crispEdges"/>
<polygon points="355.3,55.38 370.4,55.38 370.4,71.16" fill="url(#g57)" stroke="url(#g57)" stroke-width="1" shape-rendering="crispEdges"/>
<polygon points="355.3,39.6 355.3,55.38 370.4,55.38" fill="url(#g58)" stroke="url(#g58)" stroke-width="1" shape-rendering="crispEdges"/>
<polygon points="355.3,39.6 370.4,39.6 370.4,55.38" fill="url(#g59)" stroke="url(#g59)" stroke-width="1" shape-rendering="crispEdges"/>
<polygon points="370.4,181.62 370.4,197.4 385.5,197.4" fill="url(#g60)" stroke="url(#g60)" stroke-width="1" shape-rendering="crispEdges"/>
<polygon points="370.4,181.62 385.5,181.62 385.5,197.4" fill="url(#g61)" stroke="url(#g61)" stroke-width="1" shape-rendering="crispEdges"/>
<polygon points="370.4,165.84 370.4,181.62 385.5,181.62" fill="url(#g62)" stroke="url(#g62)" stroke-width="1" shape-rendering="crispEdges"/>
<polygon points="370.4,165.84 385.5,165.84 385.5,181.62" fill="url(#g63)" stroke="url(#g63)" stroke-width="1" shape-rendering="crispEdges"/>
<polygon points="370.4,150.06 370.4,165.84 385.5,165.84" fill="url(#g64)" stroke="url(#g64)" stroke-width="1" shape-rendering="crispEdges"/>
<polygon points="370.4,150.06 385.5,150.06 385.5,165.84" fill="url(#g65)" stroke="url(#g65)" stroke-width="1" shape-rendering="crispEdges"/>
<polygon points="370.4,134.28 370.4,150.06 385.5,150.06" fill="url(#g66)" stroke="url(#g66)" stroke-width="1" shape-rendering="crispEdges"/>
<polygon points="370.4,134.28 385.5,134.28 385.5,150.06" fill="url(#g67)" stroke="url(#g67)" stroke-width="1" shape-rendering="crispEdges"/>
<polygon points="370.4,118.5 370.4,134.28 385.5,134.28" fill="url(#g68)" stroke="url(#g68)" stroke-width="1" shape-rendering="crispEdges"/>
<polygon points="370.4,118.5 385.5,118.5 385.5,134.28" fill="url(#g69)" stroke="url(#g69)" stroke-width="1" shape-rendering="crispEdges"/>
<polygon points="370.4,102.72 370.4,118.5 385.5,118.5" fill="url(#g70)" stroke="url(#g70)" stroke-width="1" shape-rendering="crispEdges"/>
<polygon points="370.4,102.72 385.5,102.72 385.5,118.5" fill="url(#g71)" stroke="url(#g71)" stroke-width="1" shape-rendering="crispEdges"/>
<polygon points="370.4,86.94 370.4,102.72 385.5,102.72" fill="url(#g72)" stroke="url(#g72)" stroke-width="1" shape-rendering="crispEdges"/>
<polygon points="370.4,86.94 385.5,86.94 385.5,102.72" fill="url(#g73)" stroke="url(#g73)" stroke-width="1" shape-rendering="crispEdges"/>
<polygon points="370.4,71.16 370.4,86.94 385.5,86.94" fill="url(#g74)" stroke="url(#g74)" stroke-width="1" shape-rendering="crispEdges"/>
<polygon points="370.4,71.16 385.5,71.16 385.5,86.94" fill="url(#g75)" stroke="url(#g75)" stroke-width="1" shape-rendering="crispEdges"/>
<polygon points="370.4,55.38 370.4,71.16 385.5,71.16" fill="url(#g76)" stroke="url(#g76)" stroke-width="1" shape-rendering="crispEdges"/>
<polygon points="370.4,55.38 385.5,55.38 385.5,71.16" fill="url(#g77)" stroke="url(#g77)" stroke-width="1" shape-rendering="crispEdges"/>
<polygon points="370.4,39.6 370.4,55.38 385.5,55.38" fill="url(#g78)" stroke="url(#g78)" stroke-width="1" shape-rendering="crispEdges"/>
<polygon points="370.4,39.6 385.5,39.6 385.5,55.38" fill="url(#g79)" stroke="url(#g79)" stroke-width="1" shape-rendering="crispEdges"/>
<polygon points="385.5,181.62 385.5,197.4 400.6,197.4" fill="url(#g80)" stroke="url(#g80)" stroke-width="1" shape-rendering="crispEdges"/>
<polygon points="385.5,181.62 400.6,181.62 400.6,197.4" fill="url(#g81)" stroke="url(#g81)" stroke-width="1" shape-rendering="crispEdges"/>
<polygon points="385.5,165.84 385.5,181.62 400.6,181.62" fill="url(#g82)" stroke="url(#g82)" stroke-width="1" shape-rendering="crispEdges"/>
<polygon points="385.5,165.84 400.6,165.84 400.6,181.62" fill="url(#g83)" stroke="url(#g83)" stroke-width="1" shape-rendering="crispEdges"/>
<polygon points="385.5,150.06 385.5,165.84 400.6,165.84" fill="url(#g84)" stroke="url(#g84)" stroke-width="1" shape-rendering="crispEdges"/>
<polygon points="385.5,150.06 400.6,150.06 400.6,165.84" fill="url(#g85)" stroke="url(#g85)" stroke-width="1" shape-rendering="crispEdges"/>
<polygon points="385.5,134.28 385.5,150.06 400.6,150.06" fill="url(#g86)" stroke="url(#g86)" stroke-width="1" shape-rendering="crispEdges"/>
<polygon points="385.5,134.28 400.6,134.28 400.6,150.06" fill="url(#g87)" stroke="url(#g87)" stroke-width="1" shape-rendering="crispEdges"/>
<polygon points="385.5,118.5 385.5,134.28 400.6,134.28" fill="url(#g88)" stroke="url(#g88)" stroke-width="1" shape-rendering="crispEdges"/>
<polygon points="385.5,118.5 400.6,118.5 400.6,134.28" fill="url(#g89)" stroke="url(#g89)" stroke-width="1" shape-rendering="crispEdges"/>
<polygon points="385.5,102.72 385.5,118.5 400.6,118.5" fill="url(#g90)" stroke="url(#g90)" stroke-width="1" shape-rendering="crispEdges"/>
<polygon points="385.5,102.72 400.6,102.72 400.6,118.5" fill="url(#g91)" stroke="url(#g91)" stroke-width="1" shape-rendering="crispEdges"/>
<polygon points="385.5,86.94 385.5,102.72 400.6,102.72" fill="url(#g92)" stroke="url(#g92)" stroke-width="1" shape-rendering="crispEdges"/>
<polygon points="385.5,86.94 400.6,86.94 400.6,102.72" fill="url(#g93)" stroke="url(#g93)" stroke-width="1" shape-rendering="crispEdges"/>
<polygon points="385.5,71.16 385.5,86.94 400.6,86.94" fill="url(#g94)" stroke="url(#g94)" stroke-width="1" shape-rendering="crispEdges"/>
<polygon points="385.5,71.16 400.6,71.16 400.6,86.94" fill="url(#g95)" stroke="url(#g95)" stroke-width="1" shape-rendering="crispEdges"/>
<polygon points="385.5,55.38 385.5,71.16 400.6,71.16" fill="url(#g96)" stroke="url(#g96)" stroke-width="1" shape-rendering="crispEdges"/>
<polygon points="385.5,55.38 400.6,55.38 400.6,71.16" fill="url(#g97)" stroke="url(#g97)" stroke-width="1" shape-rendering="crispEdges"/>
<polygon points="385.5,39.6 385.5,55.38 400.6,55.38" fill="url(#g98)" stroke="url(#g98)" stroke-width="1" shape-rendering="crispEdges"/>
<polygon points="385.5,39.6 400.6,39.6 400.6,55.38" fill="url(#g99)" stroke="url(#g99)" stroke-width="1" shape-rendering="crispEdges"/>
<polygon points="400.6,181.62 400.6,197.4 415.7,197.4" fill="url(#g100)" stroke="url(#g100)" stroke-width="1" shape-rendering="crispEdges"/>
<polygon points="400.6,181.62 415.7,181.62 415.7,197.4" fill="url(#g101)" stroke="url(#g101)" stroke-width="1" shape-rendering="crispEdges"/>
<polygon points="400.6,165.84 400.6,181.62 415.7,181.62" fill="url(#g102)" stroke="url(#g102)" stroke-width="1" shape-rendering="crispEdges"/>
<polygon points="400.6,165.84 415.7,165.84 415.7,181.62" fill="url(#g103)" stroke="url(#g103)" stroke-width="1" shape-rendering="crispEdges"/>
<polygon points="400.6,150.06 400.6,165.84 415.7,165.84" fill="url(#g104)" stroke="url(#g104)" stroke-width="1" shape-rendering="crispEdges"/>
<polygon points="400.6,150.06 415.7,150.06 415.7,165.84" fill="url(#g105)" stroke="url(#g105)" stroke-width="1" shape-rendering="crispEdges"/>
<polygon points="400.6,134.28 400.6,150.06 415.7,150.06" fill="url(#g106)" stroke="url(#g106)" stroke-width="1" shape-rendering="crispEdges"/>
<polygon points="400.6,134.28 415.7,134.28 415.7,150.06" fill="url(#g107)" stroke="url(#g107)" stroke-width="1" shape-rendering="crispEdges"/>
<polygon points="400.6,118.5 400.6,134.28 415.7,134.28" fill="url(#g108)" stroke="url(#g108)" stroke-width="1" shape-rendering="crispEdges"/>
<polygon points="400.6,118.5 415.7,118.5 415.7,134.28" fill="url(#g109)" stroke="url(#g109)" stroke-width="1" shape-rendering="crispEdges"/>
<polygon points="400.6,102.72 400.6,118.5 415.7,118.5" fill="url(#g110)" stroke="url(#g110)" stroke-width="1" shape-rendering="crispEdges"/>
<polygon points="400.6,102.72 415.7,102.72 415.7,118.5" fill="url(#g111)" stroke="url(#g111)" stroke-width="1" shape-rendering="crispEdges"/>
<polygon points="400.6,86.94 400.6,102.72 415.7,102.72" fill="url(#g112)" stroke="url(#g112)" stroke-width="1" shape-rendering="crispEdges"/>
<polygon points="400.6,86.94 415.7,86.94 415.7,102.72" fill="url(#g113)" stroke="url(#g113)" stroke-width="1" shape-rendering="crispEdges"/>
<polygon points="400.6,71.16 400.6,86.94 415.7,86.94" fill="url(#g114)" stroke="url(#g114)" stroke-width="1" shape-rendering="crispEdges"/>
<polygon points="400.6,71.16 415.7,71.16 415.7,86.94" fill="url(#g115)" stroke="url(#g115)" stroke-width="1" shape-rendering="crispEdges"/>
<polygon points="400.6,55.38 400.6,71.16 415.7,71.16" fill="url(#g116)" stroke="url(#g116)" stroke-width="1" shape-rendering="crispEdges"/>
<polygon points="400.6,55.38 415.7,55.38 415.7,71.16" fill="url(#g117)" stroke="url(#g117)" stroke-width="1" shape-rendering="crispEdges"/>
<polygon points="400.6,39.6 400.6,55.38 415.7,55.38" fill="url(#g118)" stroke="url(#g118)" stroke-width="1" shape-rendering="crispEdges"/>
<polygon points="400.6,39.6 415.7,39.6 415.7,55.38" fill="url(#g119)" stroke="url(#g119)" stroke-width="1" shape-rendering="crispEdges"/>
<polygon points="415.7,181.62 415.7,197.4 430.8,197.4" fill="url(#g120)" stroke="url(#g120)" stroke-width="1" shape-rendering="crispEdges"/>
<polygon points="415.7,181.62 430.8,181.62 430.8,197.4" fill="url(#g121)" stroke="url(#g121)" stroke-width="1" shape-rendering="crispEdges"/>
<polygon points="415.7,165.84 415.7,181.62 430.8,181.62" fill="url(#g122)" stroke="url(#g122)" stroke-width="1" shape-rendering="crispEdges"/>
<polygon points="415.7,165.84 430.8,165.84 430.8,181.62" fill="url(#g123)" stroke="url(#g123)" stroke-width="1" shape-rendering="crispEdges"/>
<polygon points="415.7,150.06 415.7,165.84 430.8,165.84" fill="url(#g124)" stroke="url(#g124)" stroke-width="1" shape-rendering="crispEdges"/>
<polygon points="415.7,150.06 430.8,150.06 430.8,165.84" fill="url(#g125)" stroke="url(#g125)" stroke-width="1" shape-rendering="crispEdges"/>
<polygon points="415.7,134.28 415.7,150.06 430.8,150.06" fill="url(#g126)" stroke="url(#g126)" stroke-width="1" shape-rendering="crispEdges"/>
<polygon points="415.7,134.28 430.8,134.28 430.8,150.06" fill="url(#g127)" stroke="url(#g127)" stroke-width="1" shape-rendering="crispEdges"/>
<polygon points="415.7,118.5 415.7,134.28 430.8,134.28" fill="url(#g128)" stroke="url(#g128)" stroke-width="1" shape-rendering="crispEdges"/>
<polygon points="415.7,118.5 430.8,118.5 430.8,134.28" fill="url(#g129)" stroke="url(#g129)" stroke-width="1" shape-rendering="crispEdges"/>
<polygon points="415.7,102.72 415.7,118.5 430.8,118.5" fill="url(#g130)" stroke="url(#g130)" stroke-width="1" shape-rendering="crispEdges"/>
<polygon points="415.7,102.72 430.8,102.72 430.8,118.5" fill="url(#g131)" stroke="url(#g131)" stroke-width="1" shape-rendering="crispEdges"/>
<polygon points="415.7,86.94 415.7,102.72 430.8,102.72" fill="url(#g132)" stroke="url(#g132)" stroke-width="1" shape-rendering="crispEdges"/>
<polygon points="415.7,86.94 430.8,86.94 430.8,102.72" fill="url(#g133)" stroke="url(#g133)" stroke-width="1" shape-rendering="crispEdges"/>
<polygon points="415.7,71.16 415.7,86.94 430.8,86.94" fill="url(#g134)" stroke="url(#g134)" stroke-width="1" shape-rendering="crispEdges"/>
<polygon points="415.7,71.16 430.8,71.16 430.8,86.94" fill="url(#g135)" stroke="url(#g135)" stroke-width="1" shape-rendering="crispEdges"/>
<polygon points="415.7,55.38 415.7,71.16 430.8,71.16" fill="url(#g136)" stroke="url(#g136)" stroke-width="1" shape-rendering="crispEdges"/>
<polygon points="415.7,55.38 430.8,55.38 430.8,71.16" fill="url(#g137)" stroke="url(#g137)" stroke-width="1" shape-rendering="crispEdges"/>
<polygon points="415.7,39.6 415.7,55.38 430.8,55.38" fill="url(#g138)" stroke="url(#g138)" stroke-width="1" shape-rendering="crispEdges"/>
<polygon points="415.7,39.6 430.8,39.6 430.8,55.38" fill="url(#g139)" stroke="url(#g139)" stroke-width="1" shape-rendering="crispEdges"/>
<polygon points="430.8,181.62 430.8,197.4 445.9,197.4" fill="url(#g140)" stroke="url(#g140)" stroke-width="1" shape-rendering="crispEdges"/>
<polygon points="430.8,181.62 445.9,181.62 445.9,197.4" fill="url(#g141)" stroke="url(#g141)" stroke-width="1" shape-rendering="crispEdges"/>
<polygon points="430.8,165.84 430.8,181.62 445.9,181.62" fill="url(#g142)" stroke="url(#g142)" stroke-width="1" shape-rendering="crispEdges"/>
<polygon points="430.8,165.84 445.9,165.84 445.9,181.62" fill="url(#g143)" stroke="url(#g143)" stroke-width="1" shape-rendering="crispEdges"/>
<polygon points="430.8,150.06 430.8,165.84 445.9,165.84" fill="url(#g144)" stroke="url(#g144)" stroke-width="1" shape-rendering="crispEdges"/>
<polygon points="430.8,150.06 445.9,150.06 445.9,165.84" fill="url(#g145)" stroke="url(#g145)" stroke-width="1" shape-rendering="crispEdges"/>
<polygon points="430.8,134.28 430.8,150.06 445.9,150.06" fill="url(#g146)" stroke="url(#g146)" stroke-width="1" shape-rendering="crispEdges"/>
<polygon points="430.8,134.28 445.9,134.28 445.9,150.06" fill="url(#g147)" stroke="url(#g147)" stroke-width="1" shape-rendering="crispEdges"/>
<polygon points="430.8,118.5 430.8,134.28 445.9,134.28" fill="url(#g148)" stroke="url(#g148)" stroke-width="1" shape-rendering="crispEdges"/>
<polygon points="430.8,118.5 445.9,118.5 445.9,134.28" fill="url(#g149)" stroke="url(#g149)" stroke-width="1" shape-rendering="crispEdges"/>
<polygon points="430.8,102.72 430.8,118.5 445.9,118.5" fill="url(#g150)" stroke="url(#g150)" stroke-width="1" shape-rendering="crispEdges"/>
<polygon points="430.8,102.72 445.9,102.72 445.9,118.5" fill="url(#g151)" stroke="url(#g151)" stroke-width="1" shape-rendering="crispEdges"/>
<polygon points="430.8,86.94 430.8,102.72 445.9,102.72" fill="url(#g152)" stroke="url(#g152)" stroke-width="1" shape-rendering="crispEdges"/>
<polygon points="430.8,86.94 445.9,86.94 445.9,102.72" fill="url(#g153)" stroke="url(#g153)" stroke-width="1" shape-rendering="crispEdges"/>
<polygon points="430.8,71.16 430.8,86.94 445.9,86.94" fill="url(#g154)" stroke="url(#g154)" stroke-width="1" shape-rendering="crispEdges"/>
<polygon points="430.8,71.16 445.9,71.16 445.9,86.94" fill="url(#g155)" stroke="url(#g155)" stroke-width="1" shape-rendering="crispEdges"/>
<polygon points="430.8,55.38 430.8,71.16 445.9,71.16" fill="url(#g156)" stroke="url(#g156)" stroke-width="1" shape-rendering="crispEdges"/>
<polygon points="430.8,55.38 445.9,55.38 445.9,71.16" fill="url(#g157)" stroke="url(#g157)" stroke-width="1" shape-rendering="crispEdges"/>
<polygon points="430.8,39.6 430.8,55.38 445.9,55.38" fill="url(#g158)" stroke="url(#g158)" stroke-width="1" shape-rendering="crispEdges"/>
<polygon points="430.8,39.6 445.9,39.6 445.9,55.38" fill="url(#g159)" stroke="url(#g159)" stroke-width="1" shape-rendering="crispEdges"/>
<polygon points="445.9,181.62 445.9,197.4 461,197.4" fill="url(#g160)" stroke="url(#g160)" stroke-width="1" shape-rendering="crispEdges"/>
<polygon points="445.9,181.62 461,181.62 461,197.4" fill="url(#g161)" stroke="url(#g161)" stroke-width="1" shape-rendering="crispEdges"/>
<polygon points="445.9,165.84 445.9,181.62 461,181.62" fill="url(#g162)" stroke="url(#g162)" stroke-width="1" shape-rendering="crispEdges"/>
<polygon points="445.9,165.84 461,165.84 461,181.62" fill="url(#g163)" stroke="url(#g163)" stroke-width="1" shape-rendering="crispEdges"/>
<polygon points="445.9,150.06 445.9,165.84 461,165.84" fill="url(#g164)" stroke="url(#g164)" stroke-width="1" shape-rendering="crispEdges"/>
<polygon points="445.9,150.06 461,150.06 461,165.84" fill="url(#g165)" stroke="url(#g165)" stroke-width="1" shape-rendering="crispEdges"/>
<polygon points="445.9,134.28 445.9,150.06 461,150.06" fill="url(#g166)" stroke="url(#g166)" stroke-width="1" shape-rendering="crispEdges"/>
<polygon points="445.9,134.28 461,134.28 461,150.06" fill="url(#g167)" stroke="url(#g167)" stroke-width="1" shape-rendering="crispEdges"/>
<polygon points="445.9,118.5 445.9,134.28 461,134.28" fill="url(#g168)" stroke="url(#g168)" stroke-width="1" shape-rendering="crispEdges"/>
<polygon points="445.9,118.5 461,118.5 461,134.28" fill="url(#g169)" stroke="url(#g169)" stroke-width="1" shape-rendering="crispEdges"/>
<polygon points="445.9,102.72 445.9,118.5 461,118.5" fill="url(#g170)" stroke="url(#g170)" stroke-width="1" shape-rendering="crispEdges"/>
<polygon points="445.9,102.72 461,102.72 461,118.5" fill="url(#g171)" stroke="url(#g171)" stroke-width="1" shape-rendering="crispEdges"/>
<polygon points="445.9,86.94 445.9,102.72 461,102.72" fill="url(#g172)" stroke="url(#g172)" stroke-width="1" shape-rendering="crispEdges"/>
<polygon points="445.9,86.94 461,86.94 461,102.72" fill="url(#g173)" stroke="url(#g173)" stroke-width="1" shape-rendering="crispEdges"/>
<polygon points="445.9,71.16 445.9,86.94 461,86.94" fill="url(#g174)" stroke="url(#g174)" stroke-width="1" shape-rendering="crispEdges"/>
<polygon points="445.9,71.16 461,71.16 461,86.94" fill="url(#g175)" stroke="url(#g175)" stroke-width="1" shape-rendering="crispEdges"/>
<polygon points="445.9,55.38 445.9,71.16 461,71.16" fill="url(#g176)" stroke="url(#g176)" stroke-width="1" shape-rendering="crispEdges"/>
<polygon points="445.9,55.38 461,55.38 461,71.16" fill="url(#g177)" stroke="url(#g177)" stroke-width="1" shape-rendering="crispEdges"/>
<polygon points="445.9,39.6 445.9,55.38 461,55.38" fill="url(#g178)" stroke="url(#g178)" stroke-width="1" shape-rendering="crispEdges"/>
<polygon points="445.9,39.6 461,39.6 461,55.38" fill="url(#g179)" stroke="url(#g179)" stroke-width="1" shape-rendering="crispEdges"/>
<polygon points="461,181.62 461,197.4 476.1,197.4" fill="url(#g180)" stroke="url(#g180)" stroke-width="1" shape-rendering="crispEdges"/>
<polygon points="461,181.62 476.1,181.62 476.1,197.4" fill="url(#g181)" stroke="url(#g181)" stroke-width="1" shape-rendering="crispEdges"/>
<polygon points="461,165.84 461,181.62 476.1,181.62" fill="url(#g182)" stroke="url(#g182)" stroke-width="1" shape-rendering="crispEdges"/>
<polygon points="461,165.84 476.1,165.84 476.1,181.62" fill="url(#g183)" stroke="url(#g183)" stroke-width="1" shape-rendering="crispEdges"/>
<polygon points="461,150.06 461,165.84 476.1,165.84" fill="url(#g184)" stroke="url(#g184)" stroke-width="1" shape-rendering="crispEdges"/>
<polygon points="461,150.06 476.1,150.06 476.1,165.84" fill="url(#g185)" stroke="url(#g185)" stroke-width="1" shape-rendering="crispEdges"/>
<polygon points="461,134.28 461,150.06 476.1,150.06" fill="url(#g186)" stroke="url(#g186)" stroke-width="1" shape-rendering="crispEdges"/>
<polygon points="461,134.28 476.1,134.28 476.1,150.06" fill="url(#g187)" stroke="url(#g187)" stroke-width="1" shape-rendering="crispEdges"/>
<polygon points="461,118.5 461,134.28 476.1,134.28" fill="url(#g188)" stroke="url(#g188)" stroke-width="1" shape-rendering="crispEdges"/>
<polygon points="461,118.5 476.1,118.5 476.1,134.28" fill="url(#g189)" stroke="url(#g189)" stroke-width="1" shape-rendering="crispEdges"/>
<polygon points="461,102.72 461,118.5 476.1,118.5" fill="url(#g190)" stroke="url(#g190)" stroke-width="1" shape-rendering="crispEdges"/>
<polygon points="461,102.72 476.1,102.72 476.1,118.5" fill="url(#g191)" stroke="url(#g191)" stroke-width="1" shape-rendering="crispEdges"/>
<polygon points="461,86.94 461,102.72 476.1,102.72" fill="url(#g192)" stroke="url(#g192)" stroke-width="1" shape-rendering="crispEdges"/>
<polygon points="461,86.94 476.1,86.94 476.1,102.72" fill="url(#g193)" stroke="url(#g193)" stroke-width="1" shape-rendering="crispEdges"/>
<polygon points="461,71.16 461,86.94 476.1,86.94" fill="url(#g194)" stroke="url(#g194)" stroke-width="1" shape-rendering="crispEdges"/>
<polygon points="461,71.16 476.1,71.16 476.1,86.94" fill="url(#g195)" stroke="url(#g195)" stroke-width="1" shape-rendering="crispEdges"/>
<polygon points="461,55.38 461,71.16 476.1,71.16" fill="url(#g196)" stroke="url(#g196)" stroke-width="1" shape-rendering="crispEdges"/>
<polygon points="461,55.38 476.1,55.38 476.1,71.16" fill="url(#g197)" stroke="url(#g197)" stroke-width="1" shape-rendering="crispEdges"/>
<polygon points="461,39.6 461,55.38 476.1,55.38" fill="url(#g198)" stroke="url(#g198)" stroke-width="1" shape-rendering="crispEdges"/>
<polygon points="461,39.6 476.1,39.6 476.1,55.38" fill="url(#g199)" stroke="url(#g199)" stroke-width="1" shape-rendering="crispEdges"/>
</g>
<line x1="310" y1="24.4" x2="310" y2="213.18" class="ax"/>
<line x1="310" y1="213.18" x2="491.2" y2="213.18" class="ax"/>
<line x1="310" y1="24.4" x2="312.5" y2="24.4" class="ax"/>
<text x="305" y="29.5" text-anchor="end" class="t2">150</text>
<line x1="310" y1="55.38" x2="312.5" y2="55.38" class="ax"/>
<text x="305" y="60.48" text-anchor="end" class="t2">100</text>
<line x1="310" y1="86.94" x2="312.5" y2="86.94" class="ax"/>
<text x="305" y="92.04" text-anchor="end" class="t2">50</text>
<line x1="310" y1="118.5" x2="312.5" y2="118.5" class="ax"/>
<text x="305" y="123.6" text-anchor="end" class="t2">0</text>
<line x1="310" y1="150.06" x2="312.5" y2="150.06" class="ax"/>
<text x="305" y="155.16" text-anchor="end" class="t2">-50</text>
<line x1="310" y1="181.62" x2="312.5" y2="181.62" class="ax"/>
<text x="305" y="186.72" text-anchor="end" class="t2">-100</text>
<line x1="310" y1="213.18" x2="312.5" y2="213.18" class="ax"/>
<text x="305" y="218.28" text-anchor="end" class="t2">-150</text>
<line x1="340.2" y1="213.18" x2="340.2" y2="210.68" class="ax"/>
<text x="338.4" y="231.2" text-anchor="middle" class="t2">-100</text>
<line x1="400.6" y1="213.18" x2="400.6" y2="210.68" class="ax"/>
<text x="400.6" y="231.2" text-anchor="middle" class="t2">0</text>
<line x1="461" y1="213.18" x2="461" y2="210.68" class="ax"/>
<text x="461" y="231.2" text-anchor="middle" class="t2">100</text>
<text x="401.8" y="252.3" text-anchor="middle" font-size="14.3" fill="#333">x [m]</text>
<text transform="translate(272.6,118.3) rotate(-90)" text-anchor="middle" font-size="14.3" fill="#333">y [m]</text>
<text x="325" y="45.3" class="n">3</text>
<text x="355.1" y="45.3" class="n">3</text>
<text x="385.2" y="45.3" class="n">2</text>
<text x="415.3" y="45.3" class="n">3</text>
<text x="445.4" y="45.3" class="n">2</text>
<text x="475.5" y="45.3" class="n">2</text>
<text x="325" y="76.66" class="n">3</text>
<text x="355.1" y="76.66" class="n">3</text>
<text x="385.2" y="76.66" class="n">2</text>
<text x="415.3" y="76.66" class="n">2</text>
<text x="445.4" y="76.66" class="n">2</text>
<text x="475.5" y="76.66" class="n">2</text>
<text x="325" y="108.02" class="n">1</text>
<text x="355.1" y="108.02" class="n">3</text>
<text x="385.2" y="108.02" class="n">2</text>
<text x="415.3" y="108.02" class="n">2</text>
<text x="445.4" y="108.02" class="n">2</text>
<text x="475.5" y="108.02" class="n">3</text>
<text x="325" y="139.38" class="n">1</text>
<text x="355.1" y="139.38" class="n">2</text>
<text x="385.2" y="139.38" class="n">3</text>
<text x="415.3" y="139.38" class="n">3</text>
<text x="445.4" y="139.38" class="n">3</text>
<text x="475.5" y="139.38" class="n">2</text>
<text x="325" y="170.74" class="n">1</text>
<text x="355.1" y="170.74" class="n">1</text>
<text x="385.2" y="170.74" class="n">1</text>
<text x="415.3" y="170.74" class="n">2</text>
<text x="445.4" y="170.74" class="n">2</text>
<text x="475.5" y="170.74" class="n">1</text>
<text x="325" y="202.1" class="n">1</text>
<text x="355.1" y="202.1" class="n">1</text>
<text x="385.2" y="202.1" class="n">1</text>
<text x="415.3" y="202.1" class="n">1</text>
<text x="445.4" y="202.1" class="n">2</text>
<text x="475.5" y="202.1" class="n">2</text>
<circle cx="359.15" cy="41.4" r="9.4" class="c"/>
<circle cx="449" cy="103.9" r="9.4" class="c"/>
<circle cx="360" cy="196.7" r="9.4" class="c"/>
<circle cx="322.7" cy="38.1" r="1.2" class="d"/>
<circle cx="340.8" cy="45.4" r="1.2" class="d"/>
<circle cx="393.5" cy="46.2" r="1.2" class="d"/>
<circle cx="428.5" cy="37.3" r="1.2" class="d"/>
<circle cx="437.7" cy="43.1" r="1.2" class="d"/>
<circle cx="461.9" cy="43.8" r="1.2" class="d"/>
<circle cx="440" cy="56.5" r="1.2" class="d"/>
<circle cx="476" cy="65" r="1.2" class="d"/>
<circle cx="321.5" cy="70" r="1.2" class="d"/>
<circle cx="425.4" cy="70.8" r="1.2" class="d"/>
<circle cx="345.4" cy="81.5" r="1.2" class="d"/>
<circle cx="369.6" cy="90.8" r="1.2" class="d"/>
<circle cx="400.8" cy="85.4" r="1.2" class="d"/>
<circle cx="393.8" cy="98.8" r="1.2" class="d"/>
<circle cx="313.8" cy="102.7" r="1.2" class="d"/>
<circle cx="413.8" cy="112.6" r="1.2" class="d"/>
<circle cx="461.9" cy="109.2" r="1.2" class="d"/>
<circle cx="351.5" cy="128" r="1.2" class="d"/>
<circle cx="394.6" cy="132.3" r="1.2" class="d"/>
<circle cx="409.2" cy="137.7" r="1.2" class="d"/>
<circle cx="457.3" cy="133" r="1.2" class="d"/>
<circle cx="486" cy="137.7" r="1.2" class="d"/>
<circle cx="331" cy="146.5" r="1.2" class="d"/>
<circle cx="368.5" cy="167.7" r="1.2" class="d"/>
<circle cx="373.5" cy="170.8" r="1.2" class="d"/>
<circle cx="414.6" cy="168.5" r="1.2" class="d"/>
<circle cx="320.4" cy="171.5" r="1.2" class="d"/>
<circle cx="483.8" cy="165.8" r="1.2" class="d"/>
<circle cx="313.8" cy="188" r="1.2" class="d"/>
<circle cx="346.2" cy="208.8" r="1.2" class="d"/>
<circle cx="372" cy="202.3" r="1.2" class="d"/>
<circle cx="417.5" cy="206.6" r="1.2" class="d"/>
<circle cx="434.5" cy="205.9" r="1.2" class="d"/>
<circle cx="469.1" cy="209.5" r="1.2" class="d"/>
<defs><linearGradient id="cb" x1="0" y1="1" x2="0" y2="0"><stop offset="0" stop-color="#00008f"/><stop offset="0.125" stop-color="#0000ff"/><stop offset="0.375" stop-color="#00ffff"/><stop offset="0.625" stop-color="#ffff00"/><stop offset="0.875" stop-color="#ff0000"/><stop offset="1" stop-color="#800000"/></linearGradient></defs>
<rect x="501.3" y="24.2" width="17.5" height="187.9" fill="url(#cb)" stroke="#444" stroke-width="0.6"/>
<line x1="518.8" y1="66.9" x2="516.8" y2="66.9" class="ax"/>
<text x="523.5" y="71.6" class="t2">0.5</text>
<line x1="518.8" y1="125.4" x2="516.8" y2="125.4" class="ax"/>
<text x="523.5" y="130.1" class="t2">0</text>
<line x1="518.8" y1="184" x2="516.8" y2="184" class="ax"/>
<text x="523.5" y="188.7" class="t2">-0.5</text>
<text x="515" y="16.4" text-anchor="middle" font-size="14.4" fill="#222">diag(<tspan font-weight="bold">R+A</tspan>)</text>
</svg>
</body></html>
